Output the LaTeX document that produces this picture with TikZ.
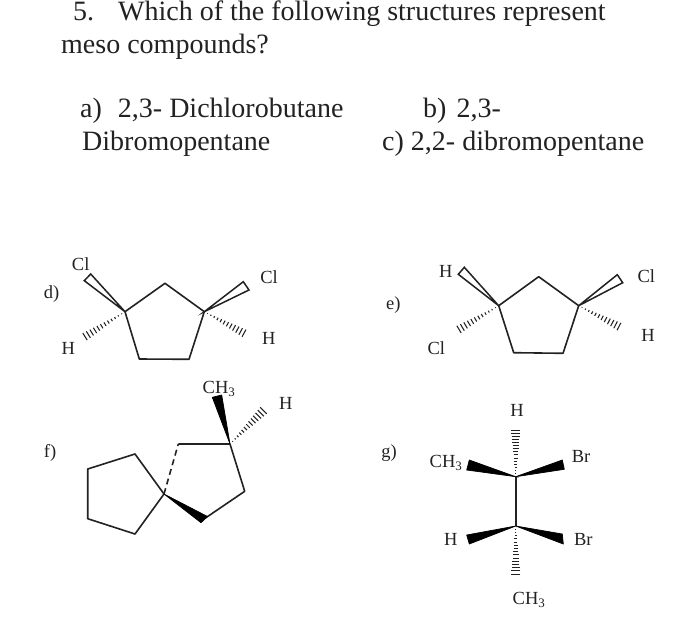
\documentclass[tikz,border=0pt]{standalone}
\usepackage{fontspec}
\setmainfont{Liberation Serif}
\usetikzlibrary{calc}
\definecolor{ink}{HTML}{222222}
\tikzset{
  bond/.style={draw=ink,line width=1.6pt,line join=round},
  openwedge/.style={draw=ink,line width=1.5pt,line join=miter,fill=white},
  solidwedge/.style={fill=black,draw=black,line width=0.7pt},
  hashline/.style={draw=ink,line width=1.05pt},
  qtext/.style={anchor=base west,inner sep=0pt,font=\fontsize{28}{30}\selectfont,text=ink},
  atom/.style={inner sep=0pt,font=\fontsize{18.5}{20}\selectfont,text=ink},
  tag/.style={inner sep=0pt,font=\fontsize{18.5}{20}\selectfont,text=ink}
}
\newcommand{\hashbond}[4]{% from, to, half width, count
  \foreach \i in {1,...,#4}{
    \pgfmathsetmacro{\t}{\i/#4}
    \pgfmathsetmacro{\w}{#3*\i/#4}
    \draw[hashline] ($(#1)!\t!(#2)!\w pt!90:(#2)$) -- ($(#1)!\t!(#2)!\w pt!-90:(#2)$);
  }
}
\begin{document}
\begin{tikzpicture}[x=1pt,y=-1pt]
\useasboundingbox[fill=white] (0,0) rectangle (700,631);
% question text
\node[qtext] (q1) at (73,21) {5.\hspace{24pt}Which of the following structures represent};
\node[qtext] (q2) at (61,54) {meso compounds?};
\node[qtext] (a1) at (80,118) {a)\hspace{16pt}2,3- Dichlorobutane};
\node[qtext] (a2) at (82,150) {Dibromopentane};
\node[qtext] (b1) at (423,118) {b)\hspace{10pt}2,3-};
\node[qtext] (c1) at (382,150) {c) 2,2- dibromopentane};
% d
\node[tag] (dt) at (51.7,294) {d)};
\coordinate (d1) at (125,311.7);
\coordinate (d2) at (165,283.3);
\coordinate (d3) at (204.3,311.7);
\coordinate (d4) at (189,359.3);
\coordinate (d5) at (139.3,359);
\coordinate (dw1a) at (84.3,280.7);
\coordinate (dw1b) at (90.7,274);
\coordinate (dw2a) at (243.3,281.7);
\coordinate (dw2b) at (249,290);
\coordinate (dh1) at (81.7,338.7);
\coordinate (dh2) at (247.3,335);
\draw[bond] (d1) -- (d2) -- (d3) -- (d4) -- (d5) -- cycle;
\draw[openwedge] (d1) -- (dw1a) -- (dw1b) -- cycle;
\draw[openwedge] (d3) -- (dw2a) -- (dw2b) -- cycle;
\hashbond{d1}{dh1}{4.5}{13}
\hashbond{d3}{dh2}{4.5}{13}
\node[atom] (dcl1) at (80.7,264) {Cl};
\node[atom] (dcl2) at (269,277.3) {Cl};
\node[atom] (dh1l) at (68.3,348.3) {H};
\node[atom] (dh2l) at (268.7,338.7) {H};
% e
\node[tag] (et) at (393.3,305) {e)};
\coordinate (e1) at (498.7,305.7);
\coordinate (e2) at (538.7,276.7);
\coordinate (e3) at (578.7,305.7);
\coordinate (e4) at (563,353.3);
\coordinate (e5) at (513.7,352.7);
\coordinate (ew1a) at (458.3,274.3);
\coordinate (ew1b) at (464.3,267.3);
\coordinate (ew2a) at (617.3,274.7);
\coordinate (ew2b) at (622.7,282.7);
\coordinate (eh1) at (455.7,331.3);
\coordinate (eh2) at (622.3,328.3);
\draw[bond] (e1) -- (e2) -- (e3) -- (e4) -- (e5) -- cycle;
\draw[openwedge] (e1) -- (ew1a) -- (ew1b) -- cycle;
\draw[openwedge] (e3) -- (ew2a) -- (ew2b) -- cycle;
\hashbond{e1}{eh1}{4.5}{13}
\hashbond{e3}{eh2}{4.5}{13}
\node[atom] (eh1l) at (445.7,271) {H};
\node[atom] (ecl2) at (646.3,275.7) {Cl};
\node[atom] (ecl1) at (436.3,347.7) {Cl};
\node[atom] (eh2l) at (648,335.7) {H};
% f
\node[tag] (ft) at (50,453.3) {f)};
\coordinate (s) at (164,494);
\coordinate (l1) at (135,454);
\coordinate (l2) at (87.7,469);
\coordinate (l3) at (87.7,518.7);
\coordinate (l4) at (135,534);
\coordinate (r1) at (178.3,444);
\coordinate (r2) at (230,444);
\coordinate (r3) at (244.7,491.3);
\coordinate (r4) at (205,518.3);
\coordinate (fwa) at (207.5,516.5);
\coordinate (fwb) at (201,522.7);
\coordinate (fma) at (212.3,397.3);
\coordinate (fmb) at (221.7,395);
\coordinate (fh) at (266,408);
\draw[bond] (s) -- (l1) -- (l2) -- (l3) -- (l4) -- cycle;
\draw[bond,dash pattern=on 6pt off 4pt] (s) -- (r1);
\draw[bond] (r1) -- (r2) -- (r3) -- (r4);
\fill[solidwedge] (s) -- (fwa) -- (fwb) -- cycle;
\fill[solidwedge] (r2) -- (fma) -- (fmb) -- cycle;
\hashbond{r2}{fh}{5}{14}
\node[atom] (fch) at (219,389) {CH\textsubscript{3}};
\node[atom] (fhl) at (285.7,403.3) {H};
% g
\node[tag] (gt) at (389,453.3) {g)};
\coordinate (g1) at (515.7,476.7);
\coordinate (g2) at (515.7,526);
\coordinate (gu) at (515.7,427);
\coordinate (gd) at (515.7,577.3);
\coordinate (gula) at (469.3,460);
\coordinate (gulb) at (466.7,470);
\coordinate (gura) at (562.3,460);
\coordinate (gurb) at (564.3,469.3);
\coordinate (glla) at (466.7,535);
\coordinate (gllb) at (469.3,544);
\coordinate (glra) at (562.3,534);
\coordinate (glrb) at (563.3,544);
\draw[bond] (g1) -- (g2);
\hashbond{g1}{gu}{5}{16}
\hashbond{g2}{gd}{5}{16}
\fill[solidwedge] (g1) -- (gula) -- (gulb) -- cycle;
\fill[solidwedge] (g1) -- (gura) -- (gurb) -- cycle;
\fill[solidwedge] (g2) -- (glla) -- (gllb) -- cycle;
\fill[solidwedge] (g2) -- (glra) -- (glrb) -- cycle;
\node[atom] (gh1) at (517,410) {H};
\node[atom] (gch1) at (446,463) {CH\textsubscript{3}};
\node[atom] (gbr1) at (581,456.7) {Br};
\node[atom] (gh2) at (450.7,539) {H};
\node[atom] (gbr2) at (583.3,539) {Br};
\node[atom] (gch2) at (529,600) {CH\textsubscript{3}};
\end{tikzpicture}
\end{document}
